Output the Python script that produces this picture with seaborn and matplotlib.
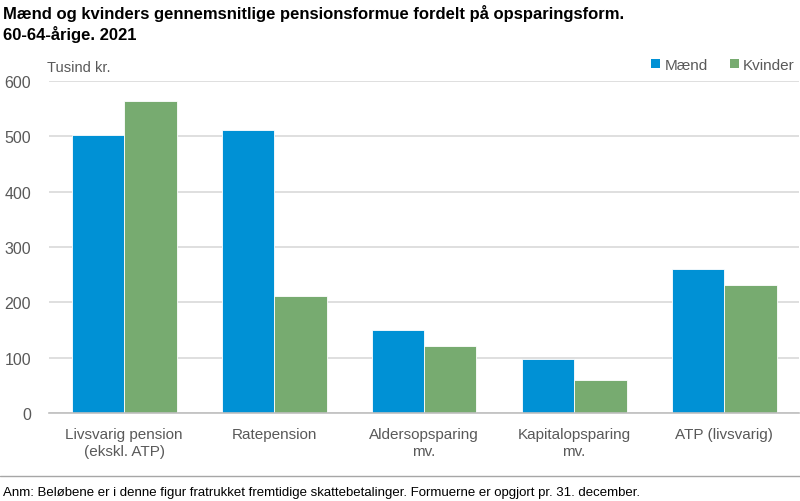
import matplotlib
matplotlib.use("Agg")
import matplotlib.pyplot as plt
import seaborn as sns
import pandas as pd
from matplotlib.lines import Line2D
from matplotlib.patches import Patch

categories = ["Livsvarig pension\n(ekskl. ATP)", "Ratepension", "Aldersopsparing\nmv.",
              "Kapitalopsparing\nmv.", "ATP (livsvarig)"]
maend = [502, 512, 150, 98, 260]
kvinder = [564, 212, 121, 60, 231]
series = ["Mænd", "Kvinder"]
yticks = [0, 100, 200, 300, 400, 500, 600]

df = pd.DataFrame({
    "kategori": categories * 2,
    "køn": ["Mænd"] * len(categories) + ["Kvinder"] * len(categories),
    "værdi": maend + kvinder,
})

sns.set_theme(style="white")
plt.rcParams["font.family"] = ["Liberation Sans", "DejaVu Sans"]

blue = "#0091D5"
green = "#77AB70"
textc = "#595959"
gridc = "#D9D9D9"

fig = plt.figure(figsize=(8, 5.02), dpi=100)
ax = fig.add_axes([49/800, 1-414/502, 750/800, (414-82)/502])

sns.barplot(data=df, x="kategori", y="værdi", hue="køn", hue_order=series,
            palette=[blue, green], width=0.7, saturation=1, ax=ax,
            edgecolor="white", linewidth=0.6, legend=False)

ax.set_ylim(0, 600)
ax.set_xlim(-0.5, 4.5)
ax.set_yticks(yticks)
ax.set_yticklabels([str(t) for t in yticks], fontsize=11.5, color=textc)
ax.tick_params(axis="x", labelsize=11, colors=textc, length=0, pad=10)
ax.tick_params(axis="y", length=0, pad=13)
for lbl in ax.get_xticklabels():
    lbl.set_color(textc)
    lbl.set_linespacing(1.25)
ax.set_xlabel("")
ax.set_ylabel("")
ax.yaxis.grid(True, color=gridc, linewidth=1.2)
ax.set_axisbelow(True)
for s in ["top", "right", "left"]:
    ax.spines[s].set_visible(False)
ax.spines["bottom"].set_color("#BFBFBF")
ax.spines["bottom"].set_linewidth(1.2)

fig.text(47/800, 1-68/502, "Tusind kr.", fontsize=10.5, color=textc, va="center", ha="left")

fig.text(3/800, 1-14/502, "Mænd og kvinders gennemsnitlige pensionsformue fordelt på opsparingsform.",
         fontsize=12, fontweight="bold", color="black", va="center", ha="left")
fig.text(3/800, 1-35/502, "60-64-årige. 2021",
         fontsize=12, fontweight="bold", color="black", va="center", ha="left")

handles = [Patch(facecolor=blue, edgecolor="none"), Patch(facecolor=green, edgecolor="none")]
leg = fig.legend(handles, series, loc="center right", bbox_to_anchor=(795/800, 1-66/502),
                 ncol=2, frameon=False, fontsize=11, handlelength=0.6, handleheight=0.6,
                 handletextpad=0.3, columnspacing=1.4, borderaxespad=0, borderpad=0)
for t in leg.get_texts():
    t.set_color(textc)

fig.add_artist(Line2D([0, 1], [1-477/502, 1-477/502], color="#A6A6A6", linewidth=1.0,
                      transform=fig.transFigure))
fig.text(3/800, 1-493/502,
         "Anm: Beløbene er i denne figur fratrukket fremtidige skattebetalinger. Formuerne er opgjort pr. 31. december.",
         fontsize=9.5, color="black", va="center", ha="left")

fig.savefig("out.png", dpi=100)
